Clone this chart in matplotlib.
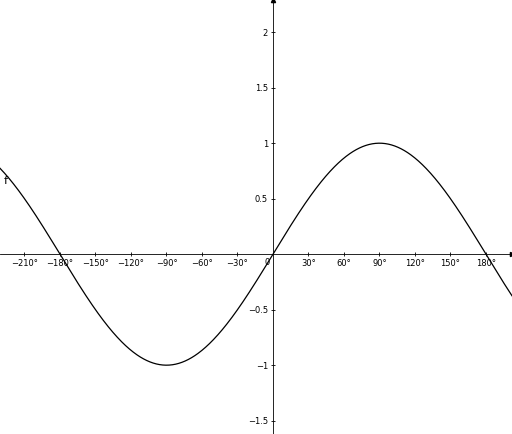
import numpy as np
import matplotlib.pyplot as plt

x_ticks = [-210, -180, -150, -120, -90, -60, -30, 30, 60, 90, 120, 150, 180]
y_ticks = [-1.5, -1, -0.5, 0.5, 1, 1.5, 2]
x_min, x_max = -230.7, 202.0
y_min, y_max = -1.62, 2.29

fig = plt.figure(figsize=(5.12, 4.34), dpi=100)
ax = fig.add_axes([0, 0, 1, 1])
ax.set_xlim(x_min, x_max)
ax.set_ylim(y_min, y_max)

# the curve f(x) = sin(x), x in degrees
xs = np.linspace(x_min, x_max, 800)
ax.plot(xs, np.sin(np.radians(xs)), color='black', linewidth=0.9)

for s in ['top', 'right']:
    ax.spines[s].set_visible(False)
ax.spines['left'].set_position(('data', 0))
ax.spines['bottom'].set_position(('data', 0))
ax.spines['left'].set_linewidth(0.6)
ax.spines['bottom'].set_linewidth(0.6)
ax.plot(1, 0, '>', transform=ax.get_yaxis_transform(), clip_on=False, color='black', ms=3)
ax.plot(0, 1, '^', transform=ax.get_xaxis_transform(), clip_on=False, color='black', ms=3)

ax.set_xticks(x_ticks)
ax.set_xticklabels([f"{'\u2212' if t < 0 else ''}{abs(t)}°" for t in x_ticks])
ax.set_yticks(y_ticks)
ax.set_yticklabels([(('\u2212' if t < 0 else '') + f"{abs(t):g}") for t in y_ticks])
ax.tick_params(axis='both', labelsize=6, length=3, width=0.6, direction='inout', pad=2)
ax.text(-3, -0.03, '0', fontsize=6, ha='right', va='top')
ax.text(-226, 0.66, 'f', fontsize=8, ha='center', va='center')

fig.savefig('out.png', dpi=100)
